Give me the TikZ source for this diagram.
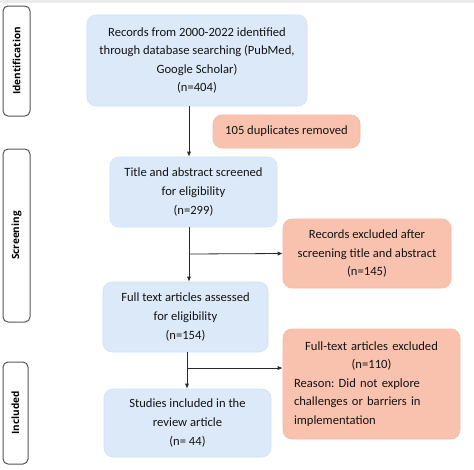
\documentclass[tikz,border=0pt]{standalone}
\usepackage{fontspec}
\setmainfont{Carlito}
\newfontfamily\sidefont{Open Sans}
\usetikzlibrary{arrows.meta}
\frenchspacing
\definecolor{bluebox}{HTML}{DBE9F8}
\definecolor{blueedge}{HTML}{D0E1F4}
\definecolor{salmon}{HTML}{F8C2AF}
\definecolor{salmonedge}{HTML}{F4B8A4}
\definecolor{txt}{HTML}{141414}
\definecolor{sideedge}{HTML}{555555}
\definecolor{topband}{HTML}{EBEBEB}
\definecolor{arrowc}{HTML}{2A2A2A}
\begin{document}
\begin{tikzpicture}[x=1pt,y=-1pt,
  every node/.style={font=\fontsize{12.6}{18.6}\selectfont, text=txt},
  bluenode/.style={fill=bluebox, draw=blueedge, line width=0.6pt, rounded corners=9pt, align=center, inner sep=0pt},
  salmonnode/.style={fill=salmon, draw=salmonedge, line width=0.6pt, rounded corners=9pt, align=center, inner sep=0pt},
  sidenode/.style={draw=sideedge, fill=white, line width=1pt, rounded corners=5pt, inner sep=0pt},
  sidetext/.style={rotate=90, font=\sidefont\bfseries\fontsize{10}{12}\selectfont, text=black},
  conn/.style={draw=arrowc, line width=0.8pt, -{Latex[length=5pt,width=4.2pt]}}
]
\useasboundingbox (0,0) rectangle (474,469);
\fill[topband] (0,0) rectangle (474,3);

% side labels
\node[sidenode, minimum width=27pt, minimum height=110pt] (sid) at (16.5,61) {};
\node[sidetext] at (sid.center) {Identification};
\node[sidenode, minimum width=27pt, minimum height=173pt] (ssc) at (16.5,235.5) {};
\node[sidetext] at (ssc.center) {Screening};
\node[sidenode, minimum width=25pt, minimum height=102pt] (sin) at (15.5,413) {};
\node[sidetext] at (sin.center) {Included};

% main boxes
\node[bluenode, minimum width=220pt, minimum height=91pt] (b1) at (197,60.5)
  {Records from 2000-2022 identified\\through database searching (PubMed,\\Google Scholar)\\(n=404)};
\node[salmonnode, minimum width=147pt, minimum height=33pt] (dup) at (286.5,131.5)
  {105 duplicates removed};
\node[bluenode, minimum width=167pt, minimum height=70pt] (b2) at (193.5,192)
  {Title and abstract screened\\for eligibility\\(n=299)};
\node[salmonnode, minimum width=168pt, minimum height=69pt] (ex1) at (367,253.5)
  {Records excluded after\\screening title and abstract\\(n=145)};
\node[bluenode, minimum width=165pt, minimum height=70pt] (b3) at (185.5,317)
  {Full text articles assessed\\for eligibility\\(n=154)};
\node[salmonnode, minimum width=177pt, minimum height=110pt, text width=155pt, align=left] (ex2) at (371.5,384)
  {\centering Full-text articles excluded\\(n=110)\par\raggedright Reason: Did not explore\\challenges or barriers in\\implementation\par};
\node[bluenode, minimum width=167pt, minimum height=68pt] (b4) at (187.5,423)
  {Studies included in the\\review article\\(n= 44)};

% connectors
\coordinate (c1) at (189,254);
\coordinate (c2) at (187,368);
\draw[conn] (b1.south -| c1) -- (b2.north -| c1);
\draw[conn] (b2.south -| c1) -- (b3.north -| c1);
\draw[conn] (c1) -- (ex1.west);
\draw[conn] (b3.south -| c2) -- (b4.north -| c2);
\draw[conn] (c2) -- (ex2.west |- c2);
\end{tikzpicture}
\end{document}
